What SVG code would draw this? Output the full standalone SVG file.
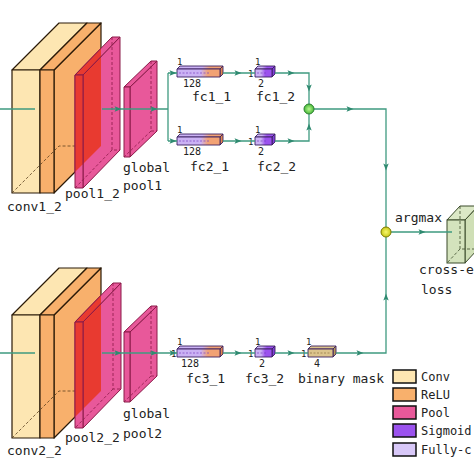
<svg xmlns="http://www.w3.org/2000/svg" width="474" height="474" viewBox="0 0 474 474">
<style>
text{font-family:"DejaVu Sans Mono","Liberation Mono",monospace;fill:#222;}
.lbl{font-size:13px;}
.lgt{font-size:12px;}
.sm{font-size:9px;}
.num{font-size:10px;}
.ln{stroke:#3f9a80;stroke-width:1.3;fill:none;}
.ah{fill:#2f8a70;}
.cv{stroke:#2a1a08;stroke-width:1.2;stroke-linejoin:round;}
.pl{stroke:#8a1a48;stroke-width:1;stroke-linejoin:round;}
.hid{stroke:#5a4020;stroke-width:0.8;stroke-dasharray:3,2;fill:none;}
.hidp{stroke:#8a1a48;stroke-width:0.8;stroke-dasharray:3,2;fill:none;}
.fc{stroke:#3a2060;stroke-width:0.9;stroke-linejoin:round;}
.dsh{stroke:#7a40c0;stroke-width:0.7;stroke-dasharray:2,1.5;fill:none;}
.lg{stroke:#111;stroke-width:1.5;}
</style>
<defs>
<path id="ah" d="M-3.5,-2.7 L3.5,0 L-3.5,2.7 L-2,0 Z"/>
<linearGradient id="gfc" x1="0" y1="0" x2="1" y2="0">
<stop offset="0" stop-color="#cbb2f4"/><stop offset="0.55" stop-color="#cbb2f4"/><stop offset="0.72" stop-color="#f2a274"/><stop offset="1" stop-color="#f2a274"/>
</linearGradient>
<linearGradient id="gsg" x1="0" y1="0" x2="1" y2="0">
<stop offset="0" stop-color="#cbb2f4"/><stop offset="0.35" stop-color="#cbb2f4"/><stop offset="0.6" stop-color="#9b52ee"/><stop offset="1" stop-color="#9b52ee"/>
</linearGradient>
<radialGradient id="gg"><stop offset="0" stop-color="#b8f890"/><stop offset="1" stop-color="#48b838"/></radialGradient>
<radialGradient id="gy"><stop offset="0" stop-color="#f8f870"/><stop offset="1" stop-color="#c8c818"/></radialGradient>
<clipPath id="c1"><polygon points="12,70 59,23 101,23 101,146 54,193 12,193"/></clipPath>
<clipPath id="c2"><polygon points="12,315 59,268 101,268 101,391 54,438 12,438"/></clipPath>
</defs>
<rect width="474" height="474" fill="#fff"/>

<!-- top branch -->
<g id="conv1_2">
<polygon class="cv" points="54,70 101,23 101,146 54,193" fill="#f8b06c"/>
<polygon class="cv" points="12,70 40,70 87,23 59,23" fill="#fde6b2"/>
<polygon class="cv" points="40,70 54,70 101,23 87,23" fill="#f8b06c"/>
<rect class="cv" x="12" y="70" width="28" height="123" fill="#fde6b2"/>
<rect class="cv" x="40" y="70" width="14" height="123" fill="#f8b06c"/>
<path class="hid" d="M12,193 L59,146 L101,146"/>
<text class="lbl" x="7" y="211">conv1_2</text>
</g>
<g id="pool1_2">
<polygon class="pl" points="83,75 120,37 120,150 83,188" fill="#e8589a"/>
<polygon class="pl" points="75,75 83,75 120,37 112,37" fill="#e8589a"/>
<rect class="pl" x="75" y="75" width="8" height="113" fill="#e8589a"/>
<g clip-path="url(#c1)">
<polygon class="pl" points="83,75 120,37 120,150 83,188" fill="#e83a30"/>
<polygon class="pl" points="75,75 83,75 120,37 112,37" fill="#e83a30"/>
<rect class="pl" x="75" y="75" width="8" height="113" fill="#e83a30"/>
</g>
<path class="hidp" d="M112,37 L112,150 L120,150 M112,150 L75,188"/>
<text class="lbl" x="65" y="198">pool1_2</text>
</g>
<g id="global_pool1">
<polygon class="pl" points="130,87 157,61 157,131 130,157" fill="#e8589a"/>
<polygon class="pl" points="124,87 130,87 157,61 151,61" fill="#e8589a"/>
<rect class="pl" x="124" y="87" width="6" height="70" fill="#e8589a"/>
<path class="hidp" d="M151,61 L151,131 L157,131 M151,131 L124,157"/>
<text class="lbl" x="123" y="172">global</text>
<text class="lbl" x="123" y="190">pool1</text>
</g>

<g id="fc1_1">
<polygon class="fc" points="177,69 220,69 223,66 180,66" fill="url(#gfc)"/>
<polygon class="fc" points="220,69 223,66 223,74 220,77" fill="#e08850"/>
<rect class="fc" x="177" y="69" width="43" height="8" fill="url(#gfc)"/>
<line class="dsh" x1="179" y1="73" x2="210" y2="73"/>
<text class="sm" x="177" y="65">1</text>
<text class="num" x="183" y="87">128</text>
<text class="lbl" x="192" y="101">fc1_1</text>
</g>
<g id="fc1_2">
<polygon class="fc" points="255,69 272,69 275,66 258,66" fill="url(#gsg)"/>
<polygon class="fc" points="272,69 275,66 275,74 272,77" fill="#8040d8"/>
<rect class="fc" x="255" y="69" width="17" height="8" fill="url(#gsg)"/>
<line class="dsh" x1="257" y1="73" x2="266" y2="73"/>
<text class="sm" x="255" y="65">1</text>
<text class="sm" x="248" y="77">1</text>
<text class="num" x="258" y="87">2</text>
<text class="lbl" x="256" y="101">fc1_2</text>
</g>
<g id="fc2_1">
<polygon class="fc" points="177,137 220,137 223,134 180,134" fill="url(#gfc)"/>
<polygon class="fc" points="220,137 223,134 223,142 220,145" fill="#e08850"/>
<rect class="fc" x="177" y="137" width="43" height="8" fill="url(#gfc)"/>
<line class="dsh" x1="179" y1="141" x2="210" y2="141"/>
<text class="sm" x="177" y="133">1</text>
<text class="num" x="183" y="155">128</text>
<text class="lbl" x="190" y="171">fc2_1</text>
</g>
<g id="fc2_2">
<polygon class="fc" points="255,137 272,137 275,134 258,134" fill="url(#gsg)"/>
<polygon class="fc" points="272,137 275,134 275,142 272,145" fill="#8040d8"/>
<rect class="fc" x="255" y="137" width="17" height="8" fill="url(#gsg)"/>
<line class="dsh" x1="257" y1="141" x2="266" y2="141"/>
<text class="sm" x="255" y="133">1</text>
<text class="sm" x="248" y="145">1</text>
<text class="num" x="258" y="155">2</text>
<text class="lbl" x="257" y="171">fc2_2</text>
</g>

<!-- bottom branch -->
<g id="conv2_2">
<polygon class="cv" points="54,315 101,268 101,391 54,438" fill="#f8b06c"/>
<polygon class="cv" points="12,315 40,315 87,268 59,268" fill="#fde6b2"/>
<polygon class="cv" points="40,315 54,315 101,268 87,268" fill="#f8b06c"/>
<rect class="cv" x="12" y="315" width="28" height="123" fill="#fde6b2"/>
<rect class="cv" x="40" y="315" width="14" height="123" fill="#f8b06c"/>
<path class="hid" d="M12,438 L59,391 L101,391"/>
<text class="lbl" x="7" y="455">conv2_2</text>
</g>
<g id="pool2_2">
<polygon class="pl" points="83,322 121,283 121,389 83,428" fill="#e8589a"/>
<polygon class="pl" points="75,322 83,322 121,283 113,283" fill="#e8589a"/>
<rect class="pl" x="75" y="322" width="8" height="106" fill="#e8589a"/>
<g clip-path="url(#c2)">
<polygon class="pl" points="83,322 121,283 121,389 83,428" fill="#e83a30"/>
<polygon class="pl" points="75,322 83,322 121,283 113,283" fill="#e83a30"/>
<rect class="pl" x="75" y="322" width="8" height="106" fill="#e83a30"/>
</g>
<path class="hidp" d="M113,283 L113,389 L121,389 M113,389 L75,428"/>
<text class="lbl" x="65" y="442">pool2_2</text>
</g>
<g id="global_pool2">
<polygon class="pl" points="130,332 157,306 157,376 130,402" fill="#e8589a"/>
<polygon class="pl" points="124,332 130,332 157,306 151,306" fill="#e8589a"/>
<rect class="pl" x="124" y="332" width="6" height="70" fill="#e8589a"/>
<path class="hidp" d="M151,306 L151,376 L157,376 M151,376 L124,402"/>
<text class="lbl" x="123" y="418">global</text>
<text class="lbl" x="123" y="438">pool2</text>
</g>
<g id="fc3_1">
<polygon class="fc" points="177,349 220,349 223,346 180,346" fill="url(#gfc)"/>
<polygon class="fc" points="220,349 223,346 223,354 220,357" fill="#e08850"/>
<rect class="fc" x="177" y="349" width="43" height="8" fill="url(#gfc)"/>
<line class="dsh" x1="179" y1="353" x2="210" y2="353"/>
<text class="sm" x="177" y="345">1</text>
<text class="sm" x="171" y="357">1</text>
<text class="num" x="181" y="367">128</text>
<text class="lbl" x="186" y="383">fc3_1</text>
</g>
<g id="fc3_2">
<polygon class="fc" points="255,349 272,349 275,346 258,346" fill="url(#gsg)"/>
<polygon class="fc" points="272,349 275,346 275,354 272,357" fill="#8040d8"/>
<rect class="fc" x="255" y="349" width="17" height="8" fill="url(#gsg)"/>
<line class="dsh" x1="257" y1="353" x2="266" y2="353"/>
<text class="sm" x="255" y="345">1</text>
<text class="sm" x="248" y="357">1</text>
<text class="num" x="259" y="367">2</text>
<text class="lbl" x="245" y="383">fc3_2</text>
</g>
<g id="binary_mask">
<polygon class="fc" points="308,349 333,349 336,346 311,346" fill="#dcc48c" stroke="#6a5020"/>
<polygon class="fc" points="333,349 336,346 336,354 333,357" fill="#b89a5c" stroke="#6a5020"/>
<rect class="fc" x="308" y="349" width="25" height="8" fill="#dcc48c" stroke="#6a5020"/>
<line x1="310" y1="353" x2="330" y2="353" stroke="#8a7040" stroke-width="0.7" stroke-dasharray="2,1.5"/>
<text class="sm" x="306" y="345">1</text>
<text class="sm" x="301" y="357">1</text>
<text class="num" x="314" y="367">4</text>
<text class="lbl" x="298" y="383">binary mask</text>
</g>

<g id="loss">
<polygon points="465,220 478,206 478,249 465,263" fill="#cfdfb6" stroke="#3a4a2a" stroke-width="1"/>
<polygon points="447,220 465,220 478,206 460,206" fill="#dbe8c6" stroke="#3a4a2a" stroke-width="1"/>
<rect x="447" y="220" width="18" height="43" fill="#d4e3bd" stroke="#3a4a2a" stroke-width="1"/>
<path d="M460,206 L460,249 L478,249 M460,249 L447,263" stroke="#3a4a2a" stroke-width="0.8" stroke-dasharray="3,2" fill="none"/>
<text class="lbl" x="419" y="274">cross-e</text>
<text class="lbl" x="421" y="294">loss</text>
</g>

<g id="connectors">
<path class="ln" d="M0,109 L35,109 M102,109 L168,109 M168,73 L168,141 M168,73 L177,73 M168,141 L177,141 M223,73 L255,73 M223,141 L255,141 M275,73 L309,73 L309,104 M275,141 L309,141 L309,114 M314,109 L386,109 L386,227 M386,237 L386,353 L336,353 M391,232 L452,232 M0,353 L35,353 M102,353 L177,353 M223,353 L255,353 M275,353 L308,353"/>
<use href="#ah" class="ah" transform="translate(118,109)"/>
<use href="#ah" class="ah" transform="translate(154,109)"/>
<use href="#ah" class="ah" transform="translate(173,73)"/>
<use href="#ah" class="ah" transform="translate(173,141)"/>
<use href="#ah" class="ah" transform="translate(238,73)"/>
<use href="#ah" class="ah" transform="translate(238,141)"/>
<use href="#ah" class="ah" transform="translate(291,73)"/>
<use href="#ah" class="ah" transform="translate(291,141)"/>
<use href="#ah" class="ah" transform="translate(309,88) rotate(90)"/>
<use href="#ah" class="ah" transform="translate(309,127) rotate(-90)"/>
<use href="#ah" class="ah" transform="translate(350,109)"/>
<use href="#ah" class="ah" transform="translate(386,167) rotate(90)"/>
<use href="#ah" class="ah" transform="translate(422,232)"/>
<use href="#ah" class="ah" transform="translate(118,353)"/>
<use href="#ah" class="ah" transform="translate(154,353)"/>
<use href="#ah" class="ah" transform="translate(173,353)"/>
<use href="#ah" class="ah" transform="translate(238,353)"/>
<use href="#ah" class="ah" transform="translate(291,353)"/>
<use href="#ah" class="ah" transform="translate(360,353)"/>
<use href="#ah" class="ah" transform="translate(386,297) rotate(-90)"/>
</g>

<g id="add_node">
<circle cx="309" cy="109" r="5" fill="url(#gg)" stroke="#2a8030" stroke-width="1"/>
</g>
<g id="argmax_node">
<circle cx="386" cy="232" r="5" fill="url(#gy)" stroke="#7a7a00" stroke-width="1"/>
<text class="lbl" x="395" y="222">argmax</text>
</g>

<g id="legend">
<rect class="lg" x="393" y="370" width="23" height="13" fill="#fde6b2"/>
<rect class="lg" x="393" y="388" width="23" height="13" fill="#f8b06c"/>
<rect class="lg" x="393" y="406" width="23" height="13" fill="#e8589a"/>
<rect class="lg" x="393" y="424" width="23" height="13" fill="#9b52ee"/>
<rect class="lg" x="393" y="443" width="23" height="13" fill="#d8c8f8"/>
<text class="lgt" x="421" y="381">Conv</text>
<text class="lgt" x="421" y="399">ReLU</text>
<text class="lgt" x="421" y="417">Pool</text>
<text class="lgt" x="421" y="435">Sigmoid</text>
<text class="lgt" x="421" y="454">Fully-c</text>
</g>
</svg>
